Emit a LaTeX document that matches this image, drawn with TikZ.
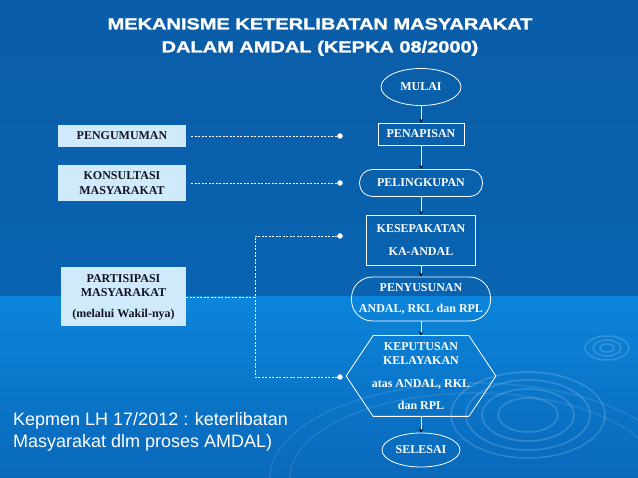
\documentclass[tikz,border=0pt]{standalone}
\usepackage{fontspec}
\usetikzlibrary{shapes.geometric}
\newfontfamily\flowfont{Liberation Serif}
\newfontfamily\titlefont{Liberation Sans Bold}[FakeStretch=1.25, FakeBold=1.5]
\newfontfamily\notefont{Liberation Sans}
\definecolor{bgtop}{HTML}{0A5DA8}
\definecolor{bgtopb}{HTML}{0963B0}
\definecolor{bglow}{HTML}{0B85DA}
\definecolor{bglowb}{HTML}{0A68BA}
\definecolor{boxfill}{HTML}{CFEAFB}
\definecolor{boxtext}{HTML}{141420}
\tikzset{%
    flow/.style={draw=white, line width=0.8pt, text=white, inner sep=0pt, align=center,
        font=\flowfont\bfseries\fontsize{12}{14.5}\selectfont},
    term/.style={flow, ellipse},
    proc/.style={flow, rectangle},
    pill/.style={flow, rectangle, rounded corners=#1},
    info/.style={fill=boxfill, text=boxtext, inner sep=0pt, align=center,
        font=\flowfont\bfseries\fontsize{12}{14.5}\selectfont},
    jnc/.style={circle, fill=white, inner sep=0pt, minimum size=5.5pt},
    arr/.style={draw=white, line width=0.8pt, -stealth},
    dsh/.style={draw=white, line width=0.7pt, dash pattern=on 2pt off 1.5pt}
}
\begin{document}
\begin{tikzpicture}[x=1pt, y=-1pt]
    \useasboundingbox (0,0) rectangle (638,478);
    % background
    \shade[top color=bgtop, bottom color=bgtopb] (0,0) rectangle (638,297);
    \shade[top color=bglow, bottom color=bglowb] (0,297) rectangle (638,478);
    \begin{scope}[white, opacity=0.16, line width=1.6pt]
        \foreach \r/\s in {77/43, 62/35, 46/26, 30/17}
            \draw (528,415) ellipse ({\r} and {\s});
        \foreach \r/\s in {22/12, 14/8, 7/4}
            \draw (607,348) ellipse ({\r} and {\s});
    \end{scope}
    \begin{scope}[white, opacity=0.09, line width=1.6pt]
        \foreach \r/\s in {205/95, 185/85}
            \draw (475,478) ellipse ({\r} and {\s});
    \end{scope}
    % title and note
    \node[text=white, align=center, inner sep=0pt,
        font=\titlefont\fontsize{16}{23}\selectfont] (title) at (320,37)
        {MEKANISME KETERLIBATAN MASYARAKAT\\DALAM AMDAL (KEPKA 08/2000)};
    \node[text=white, align=left, anchor=west, inner sep=0pt,
        font=\notefont\fontsize{18}{22}\selectfont] (note) at (13,432)
        {Kepmen LH 17/2012 : keterlibatan\\Masyarakat dlm proses AMDAL)};
    % flow
    \node[term, minimum width=80pt, minimum height=37pt] (mulai) at (421,87) {MULAI};
    \node[proc, minimum width=86pt, minimum height=22pt] (penap) at (421,134) {PENAPISAN};
    \node[pill=13pt, minimum width=123pt, minimum height=27pt] (pling) at (421,183) {PELINGKUPAN};
    \node[proc, minimum width=109pt, minimum height=50pt] (kesep) at (421,240)
        {KESEPAKATAN\\[8.5pt]KA-ANDAL};
    \node[pill=21pt, minimum width=139pt, minimum height=44pt] (penyu) at (421,299)
        {PENYUSUNAN\\[6.5pt]ANDAL, RKL dan RPL};
    \node[flow, draw=none, minimum width=149pt, minimum height=80pt] (keput) at (421,376)
        {KEPUTUSAN\\KELAYAKAN\\[8.5pt]atas ANDAL, RKL\\[7.5pt]dan RPL};
    \draw[white, line width=0.8pt] (keput.west) -- ([xshift=27pt]keput.north west)
        -- ([xshift=-27pt]keput.north east) -- (keput.east)
        -- ([xshift=-27pt]keput.south east) -- ([xshift=27pt]keput.south west) -- cycle;
    \node[term, minimum width=78pt, minimum height=34pt] (seles) at (421,450) {SELESAI};
    \path[arr] (mulai) edge (penap)
        (penap) edge (pling)
        (pling) edge (kesep)
        (kesep) edge (penyu)
        (penyu) edge (keput)
        (keput) edge (seles);
    % participation
    \node[info, minimum width=128pt, minimum height=22pt] (peng) at (122,136) {PENGUMUMAN};
    \node[info, minimum width=128pt, minimum height=36pt] (kons) at (122,183)
        {KONSULTASI\\MASYARAKAT};
    \node[info, minimum width=125pt, minimum height=59pt] (part) at (123.5,297)
        {PARTISIPASI\\MASYARAKAT\\[6pt](melalui Wakil-nya)};
    \node[jnc] (d1) at (340,136){};
    \node[jnc] (d2) at (340,183){};
    \node[jnc] (d3) at (340,236){};
    \node[jnc] (d4) at (340,377){};
    \coordinate (j) at (255,297);
    \path[dsh, shorten <=5pt]
        (peng) edge (d1)
        (kons) edge (d2);
    \draw[dsh] (part.east) -- (j);
    \draw[dsh] (d3) -| (j);
    \draw[dsh] (d4) -| (j);
\end{tikzpicture}
\end{document}
